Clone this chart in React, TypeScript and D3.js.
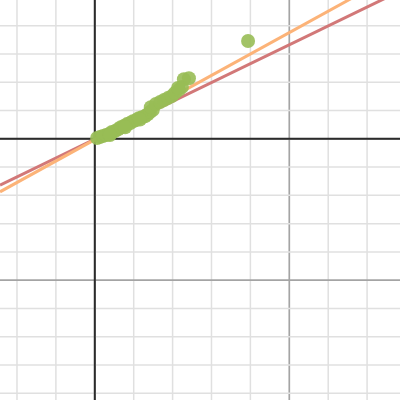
import * as d3 from "d3";
import React from "react";

// scatter points (x, y)
const pointX = [
  0.06, 0.13, 0.21, 0.29, 0.37, 0.44, 0.52, 0.6, 0.67, 0.75, 0.83, 0.9, 0.98,
  1.06, 1.13, 1.21, 1.29, 1.36, 1.42, 1.49, 1.44, 1.57, 1.68, 1.78, 1.88, 1.98,
  2.06, 2.16, 2.24, 2.29, 2.42, 3.94, 0.39, 0.78, 1.16, 2.14,
];
const pointY = [
  0.03, 0.06, 0.1, 0.13, 0.17, 0.24, 0.27, 0.34, 0.41, 0.45, 0.52, 0.55, 0.62,
  0.66, 0.73, 0.76, 0.8, 0.87, 0.95, 1.02, 1.12, 1.23, 1.3, 1.37, 1.44, 1.51,
  1.62, 1.73, 1.83, 2.11, 2.14, 3.46, 0.13, 0.41, 0.68, 1.8,
];

// fitted lines y = slope * x + intercept
const lineNames = ["red", "orange"];
const lineSlopes = [0.667, 0.757];
const lineIntercepts = [-0.01, -0.03];
const lineColors = ["#d27878", "#fcb378"];

const W = 400;
const H = 400;

export default function App() {
  const x = d3.scaleLinear().domain([-2.437, 7.846]).range([0, W]);
  const y = d3.scaleLinear().domain([-9.236, 4.908]).range([H, 0]);

  const [x0, x1] = x.domain();
  const [y0, y1] = y.domain();
  const xTicks = d3.range(Math.ceil(x0), Math.floor(x1) + 1);
  const yTicks = d3.range(Math.ceil(y0), Math.floor(y1) + 1);

  return (
    <div style={{ position: "fixed", top: 0, left: 0 }}>
      <svg width={W} height={H} style={{ display: "block", background: "#fff" }}>
        <g className="grid">
          {xTicks.map((t) => (
            <line
              key={"vx" + t}
              x1={x(t)}
              x2={x(t)}
              y1={0}
              y2={H}
              stroke={t % 5 === 0 ? "#a4a4a4" : "#e0e0e0"}
              strokeWidth={t % 5 === 0 ? 1.7 : 1.5}
            />
          ))}
          {yTicks.map((t) => (
            <line
              key={"hy" + t}
              x1={0}
              x2={W}
              y1={y(t)}
              y2={y(t)}
              stroke={t % 5 === 0 ? "#a4a4a4" : "#e0e0e0"}
              strokeWidth={t % 5 === 0 ? 1.7 : 1.5}
            />
          ))}
        </g>
        <g className="axes">
          <line x1={x(0)} x2={x(0)} y1={0} y2={H} stroke="#2b2b2b" strokeWidth={2} />
          <line x1={0} x2={W} y1={y(0)} y2={y(0)} stroke="#2b2b2b" strokeWidth={2} />
        </g>
        <g className="lines">
          {lineNames.map((name, i) => {
            const path = d3
              .line<number>()
              .x((d) => x(d))
              .y((d) => y(lineSlopes[i] * d + lineIntercepts[i]))([x0, x1]);
            return (
              <path
                key={name}
                d={path || ""}
                fill="none"
                stroke={lineColors[i]}
                strokeWidth={3}
              />
            );
          })}
        </g>
        <g className="points">
          {pointX.map((px, i) => (
            <circle
              key={i}
              cx={x(px)}
              cy={y(pointY[i])}
              r={7}
              fill="#98bc55"
              fillOpacity={0.9}
            />
          ))}
        </g>
      </svg>
    </div>
  );
}
